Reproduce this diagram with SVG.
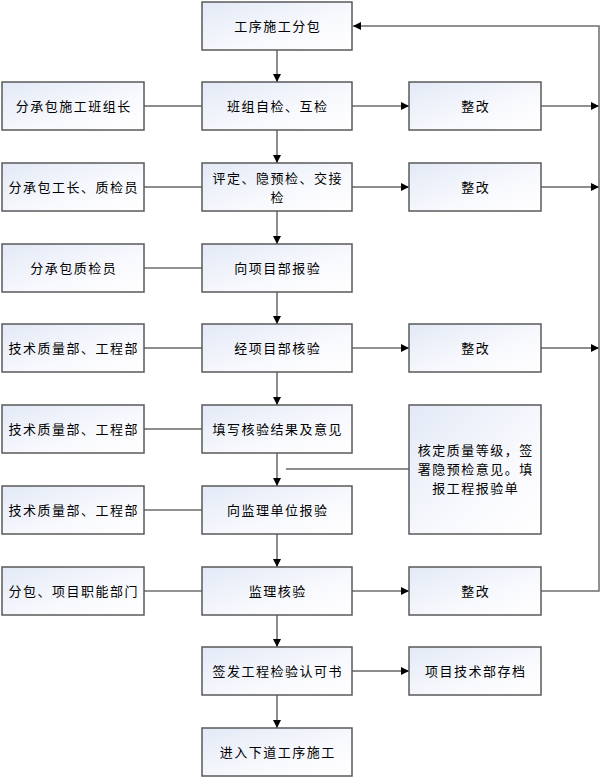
<svg xmlns="http://www.w3.org/2000/svg" width="611" height="780" viewBox="0 0 611 780">
<defs>
<linearGradient id="g" x1="0" y1="0" x2="1" y2="1">
<stop offset="0" stop-color="#e2e9f6"/>
<stop offset="0.6" stop-color="#f8f9fd"/>
<stop offset="1" stop-color="#ffffff"/>
</linearGradient>
<marker id="a" markerUnits="userSpaceOnUse" markerWidth="9" markerHeight="9" refX="8" refY="4" orient="auto">
<path d="M0,0 L8,4 L0,8 z" fill="#000"/>
</marker>
</defs>
<style>
.b{fill:url(#g);stroke:#5a5a5a;stroke-width:1.5}
.t{font-family:"Noto Sans CJK SC","Liberation Sans",sans-serif;font-size:13px;letter-spacing:1.5px;fill:#000;text-anchor:middle}
.k{stroke:#1a1a1a;stroke-width:1;fill:none}
.g{stroke:#6e6e6e;stroke-width:1.5;fill:none}
</style>
<rect width="611" height="780" fill="#fff"/>
<g id="connectors">
<path class="k" d="M277,50 V82" marker-end="url(#a)"/>
<path class="k" d="M277,130 V163" marker-end="url(#a)"/>
<path class="k" d="M277,211 V244" marker-end="url(#a)"/>
<path class="k" d="M277,292 V324" marker-end="url(#a)"/>
<path class="k" d="M277,372 V405" marker-end="url(#a)"/>
<path class="k" d="M277,453 V486" marker-end="url(#a)"/>
<path class="k" d="M277,534 V567" marker-end="url(#a)"/>
<path class="k" d="M277,615 V647" marker-end="url(#a)"/>
<path class="k" d="M277,695 V728" marker-end="url(#a)"/>
<path class="k" d="M144,106 H202"/>
<path class="k" d="M144,187 H202"/>
<path class="g" d="M144,268 H202"/>
<path class="k" d="M144,348 H202"/>
<path class="k" d="M144,429 H202"/>
<path class="g" d="M144,510 H202"/>
<path class="g" d="M144,591 H202"/>
<path class="g" d="M352,106 H409" marker-end="url(#a)"/>
<path class="k" d="M352,187 H409" marker-end="url(#a)"/>
<path class="g" d="M352,348 H409" marker-end="url(#a)"/>
<path class="g" d="M352,591 H409" marker-end="url(#a)"/>
<path class="k" d="M352,671 H409" marker-end="url(#a)"/>
<path class="g" d="M541,106 H599" marker-end="url(#a)"/>
<path class="k" d="M541,187 H599" marker-end="url(#a)"/>
<path class="k" d="M541,348 H599" marker-end="url(#a)"/>
<path class="g" d="M541,591 H599 V26 H353" marker-end="url(#a)"/>
<path class="k" d="M409,469 H286"/>
</g>
<g id="n0"><rect class="b" x="202" y="2" width="150" height="48"/><text class="t" x="277.75" y="31">工序施工分包</text></g>
<g id="n1"><rect class="b" x="202" y="82" width="150" height="48"/><text class="t" x="277.75" y="111">班组自检、互检</text></g>
<g id="n2"><rect class="b" x="202" y="163" width="150" height="48"/><text class="t" x="277.75" y="183">评定、隐预检、交接</text><text class="t" x="277.75" y="202">检</text></g>
<g id="n3"><rect class="b" x="202" y="244" width="150" height="48"/><text class="t" x="277.75" y="273">向项目部报验</text></g>
<g id="n4"><rect class="b" x="202" y="324" width="150" height="48"/><text class="t" x="277.75" y="353">经项目部核验</text></g>
<g id="n5"><rect class="b" x="202" y="405" width="150" height="48"/><text class="t" x="277.75" y="434">填写核验结果及意见</text></g>
<g id="n6"><rect class="b" x="202" y="486" width="150" height="48"/><text class="t" x="277.75" y="515">向监理单位报验</text></g>
<g id="n7"><rect class="b" x="202" y="567" width="150" height="48"/><text class="t" x="277.75" y="596">监理核验</text></g>
<g id="n8"><rect class="b" x="202" y="647" width="150" height="48"/><text class="t" x="277.75" y="676">签发工程检验认可书</text></g>
<g id="n9"><rect class="b" x="202" y="728" width="150" height="48"/><text class="t" x="277.75" y="757">进入下道工序施工</text></g>
<g id="l1"><rect class="b" x="2" y="82" width="142" height="48"/><text class="t" x="73.75" y="111">分承包施工班组长</text></g>
<g id="l2"><rect class="b" x="2" y="163" width="142" height="48"/><text class="t" x="73.75" y="192">分承包工长、质检员</text></g>
<g id="l3"><rect class="b" x="2" y="244" width="142" height="48"/><text class="t" x="73.75" y="273">分承包质检员</text></g>
<g id="l4"><rect class="b" x="2" y="324" width="142" height="48"/><text class="t" x="73.75" y="353">技术质量部、工程部</text></g>
<g id="l5"><rect class="b" x="2" y="405" width="142" height="48"/><text class="t" x="73.75" y="434">技术质量部、工程部</text></g>
<g id="l6"><rect class="b" x="2" y="486" width="142" height="48"/><text class="t" x="73.75" y="515">技术质量部、工程部</text></g>
<g id="l7"><rect class="b" x="2" y="567" width="142" height="48"/><text class="t" x="73.75" y="596">分包、项目职能部门</text></g>
<g id="r1"><rect class="b" x="409" y="82" width="132" height="48"/><text class="t" x="475.75" y="111">整改</text></g>
<g id="r2"><rect class="b" x="409" y="163" width="132" height="48"/><text class="t" x="475.75" y="192">整改</text></g>
<g id="r4"><rect class="b" x="409" y="324" width="132" height="48"/><text class="t" x="475.75" y="353">整改</text></g>
<g id="r5"><rect class="b" x="409" y="405" width="132" height="129"/><text class="t" x="475.75" y="455">核定质量等级，签</text><text class="t" x="475.75" y="474">署隐预检意见。填</text><text class="t" x="475.75" y="493">报工程报验单</text></g>
<g id="r7"><rect class="b" x="409" y="567" width="132" height="48"/><text class="t" x="475.75" y="596">整改</text></g>
<g id="r8"><rect class="b" x="409" y="647" width="132" height="48"/><text class="t" x="475.75" y="676">项目技术部存档</text></g>
</svg>
